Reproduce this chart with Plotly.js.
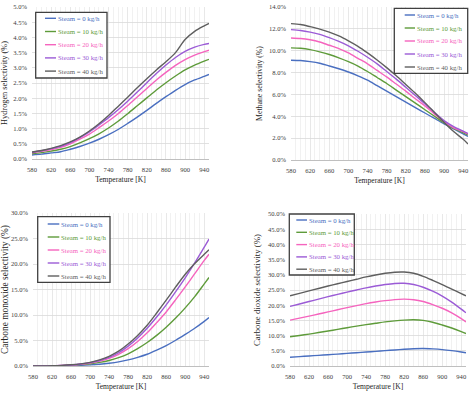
<!DOCTYPE html>
<html>
<head>
<meta charset="utf-8">
<script src="https://cdn.plot.ly/plotly-3.0.1.min.js"></script>
<style>
  html, body { margin: 0; padding: 0; background: #ffffff; }
  #chart { width: 474px; height: 399px; }
</style>
</head>
<body>
<div id="chart"></div>
<script>
// ---------------- DATA ----------------
var temperature = [580, 600, 620, 640, 660, 680, 700, 720, 740, 760, 780, 800, 820, 840, 860, 880, 900, 920, 940, 950];
var seriesNames = ["Steam = 0 kg/h", "Steam = 10 kg/h", "Steam = 20 kg/h", "Steam = 30 kg/h", "Steam = 40 kg/h"];
var xTickValues = [580, 620, 660, 700, 740, 780, 820, 860, 900, 940];

// Hydrogen selectivity (%)
var h2_0kg  = [0.13,0.16,0.20,0.24,0.32,0.41,0.52,0.65,0.80,0.97,1.17,1.38,1.60,1.83,2.05,2.26,2.45,2.60,2.72,2.78];
var h2_10kg = [0.17,0.21,0.26,0.32,0.41,0.53,0.67,0.83,1.02,1.24,1.49,1.75,2.01,2.27,2.51,2.73,2.93,3.09,3.22,3.28];
var h2_20kg = [0.20,0.25,0.31,0.38,0.50,0.65,0.82,1.03,1.25,1.49,1.76,2.04,2.32,2.60,2.85,3.08,3.27,3.42,3.53,3.58];
var h2_30kg = [0.22,0.27,0.34,0.42,0.54,0.70,0.89,1.12,1.36,1.62,1.90,2.20,2.51,2.81,3.09,3.34,3.54,3.68,3.77,3.80];
var h2_40kg = [0.23,0.28,0.35,0.44,0.56,0.72,0.92,1.16,1.43,1.73,2.03,2.34,2.64,2.93,3.20,3.50,3.93,4.20,4.38,4.46];

// Methane selectivity (%)
var ch4_0kg  = [9.13,9.10,9.00,8.85,8.60,8.35,8.05,7.70,7.30,6.80,6.30,5.80,5.30,4.80,4.30,3.80,3.30,2.85,2.40,2.15];
var ch4_10kg = [10.26,10.22,10.10,9.90,9.65,9.35,9.00,8.60,8.10,7.55,7.00,6.40,5.80,5.20,4.60,4.00,3.40,2.90,2.50,2.28];
var ch4_20kg = [11.17,11.12,11.00,10.80,10.50,10.20,9.80,9.30,8.80,8.20,7.60,6.95,6.30,5.60,4.95,4.20,3.50,2.95,2.60,2.37];
var ch4_30kg = [11.93,11.85,11.70,11.50,11.20,10.85,10.45,9.95,9.40,8.80,8.10,7.40,6.65,5.90,5.15,4.35,3.60,3.05,2.65,2.43];
var ch4_40kg = [12.48,12.40,12.20,11.98,11.70,11.35,10.90,10.40,9.80,9.15,8.45,7.70,6.90,6.10,5.25,4.35,3.45,2.60,1.90,1.46];

// Carbon monoxide selectivity (%)
var co_0kg  = [0.00,0.01,0.02,0.04,0.07,0.13,0.22,0.35,0.55,0.82,1.20,1.70,2.30,3.10,4.00,5.05,6.20,7.40,8.75,9.50];
var co_10kg = [0.00,0.02,0.04,0.08,0.15,0.26,0.43,0.70,1.08,1.65,2.40,3.40,4.60,6.00,7.60,9.40,11.40,13.60,16.10,17.35];
var co_20kg = [0.00,0.02,0.05,0.10,0.19,0.34,0.58,0.95,1.50,2.30,3.40,4.80,6.50,8.50,10.60,13.00,15.50,18.10,20.70,21.90];
var co_30kg = [0.00,0.02,0.05,0.10,0.21,0.38,0.66,1.08,1.70,2.60,3.90,5.50,7.40,9.60,12.00,14.60,17.30,20.20,23.30,24.90];
var co_40kg = [0.00,0.02,0.05,0.12,0.24,0.42,0.72,1.20,1.90,2.90,4.30,6.00,8.00,10.40,12.90,15.50,18.00,20.10,21.90,22.80];

// Carbon dioxide selectivity (%)
var co2_0kg  = [2.90,3.10,3.30,3.50,3.70,3.92,4.15,4.37,4.60,4.82,5.05,5.27,5.50,5.68,5.75,5.62,5.40,5.05,4.60,4.35];
var co2_10kg = [9.60,10.05,10.50,11.00,11.50,12.05,12.60,13.10,13.60,14.05,14.50,14.85,15.10,15.20,15.00,14.40,13.50,12.50,11.30,10.65];
var co2_20kg = [15.10,15.75,16.40,17.10,17.80,18.50,19.20,19.85,20.50,21.05,21.50,21.85,22.00,21.80,21.20,20.20,19.00,17.50,15.60,14.50];
var co2_30kg = [19.60,20.40,21.20,22.00,22.80,23.55,24.30,25.00,25.70,26.30,26.80,27.15,27.20,26.80,25.90,24.60,23.00,21.00,18.70,17.50];
var co2_40kg = [23.10,23.90,24.70,25.50,26.30,27.05,27.80,28.55,29.30,29.95,30.50,30.85,30.90,30.50,29.50,28.20,26.80,25.30,23.80,23.10];

// ---------------- STYLE / LAYOUT ----------------
var W = 474, H = 399;
var lineColors = ["#4a6fc0", "#5e9b3a", "#f564be", "#9b5bd6", "#5f5f5f"];
var FONT = "Liberation Serif, Times New Roman, serif";

var panels = [
  { series: [h2_0kg, h2_10kg, h2_20kg, h2_30kg, h2_40kg], ytitle: "Hydrogen selectivity (%)", ytitleSize: 8.3,
    yrange: [0, 5], ydtick: 0.5, box: [32, 7, 209, 159],
    legend: { box: [35.7, 12.3, 107, 78], y0: 18.3, dy: 13.2, lx: [45, 56], tx: 57 } },
  { series: [ch4_0kg, ch4_10kg, ch4_20kg, ch4_30kg, ch4_40kg], ytitle: "Methane selectivity (%)", ytitleSize: 7.8,
    yrange: [0, 14], ydtick: 2, box: [291, 7, 468, 160],
    legend: { box: [394.3, 8.3, 467.7, 73.3], y0: 15, dy: 13, lx: [404.7, 415], tx: 416 } },
  { series: [co_0kg, co_10kg, co_20kg, co_30kg, co_40kg], ytitle: "Carbone monoxide selectivity (%)", ytitleSize: 9.4,
    yrange: [0, 30], ydtick: 5, box: [33, 213, 209, 366],
    legend: { box: [37.7, 216.7, 110, 282.3], y0: 224, dy: 13, lx: [47.7, 59.3], tx: 60 } },
  { series: [co2_0kg, co2_10kg, co2_20kg, co2_30kg, co2_40kg], ytitle: "Carbone dioxide selectivity (%)", ytitleSize: 8.8,
    yrange: [0, 50], ydtick: 5, box: [290, 214, 466, 366],
    legend: { box: [289.3, 214, 354.3, 275], y0: 220, dy: 12.3, lx: [296.3, 307], tx: 307.7 } }
];

function px(x) { return x / W; }
function py(y) { return 1 - y / H; }

var traces = [];
var layout = {
  width: W, height: H,
  margin: { l: 0, r: 0, t: 0, b: 0 },
  paper_bgcolor: "#ffffff",
  plot_bgcolor: "#ffffff",
  showlegend: false,
  font: { family: FONT, size: 7, color: "#404040" },
  shapes: [],
  annotations: []
};

panels.forEach(function (p, k) {
  var suffix = k === 0 ? "" : String(k + 1);
  var xa = "xaxis" + suffix, ya = "yaxis" + suffix;
  p.series.forEach(function (vals, i) {
    traces.push({
      type: "scatter", mode: "lines",
      x: temperature, y: vals,
      xaxis: "x" + suffix, yaxis: "y" + suffix,
      name: seriesNames[i],
      line: { color: lineColors[i], width: 1.4, shape: "spline", smoothing: 0.8 },
      hoverinfo: "skip"
    });
  });
  layout[xa] = {
    domain: [px(p.box[0]), px(p.box[2])],
    anchor: "y" + suffix,
    range: [580, 950],
    tickmode: "array", tickvals: xTickValues,
    ticks: "", ticklabelstandoff: 4,
    tickfont: { family: FONT, size: 6.6, color: "#404040" },
    showgrid: true, gridcolor: "#e6e6e6", gridwidth: 0.8,
    minor: { dtick: 10, tick0: 580, showgrid: true, gridcolor: "#eeeeee", gridwidth: 0.8 },
    showline: true, linecolor: "#bfbfbf", linewidth: 1,
    zeroline: false, fixedrange: true,
    title: { text: "Temperature [K]", font: { family: FONT, size: 7.6, color: "#262626" }, standoff: 4 }
  };
  layout[ya] = {
    domain: [py(p.box[3]), py(p.box[1])],
    anchor: "x" + suffix,
    range: p.yrange, dtick: p.ydtick, tick0: 0,
    tickformat: ".1f", ticksuffix: "%",
    ticks: "", ticklabelstandoff: 4,
    tickfont: { family: FONT, size: 6.6, color: "#404040" },
    showgrid: true, gridcolor: "#d9d9d9", gridwidth: 0.8,
    showline: false, zeroline: false, fixedrange: true,
    title: { text: p.ytitle, font: { family: FONT, size: p.ytitleSize, color: "#262626" }, standoff: 5 }
  };

  // legend box (library shapes/annotations in paper space)
  var L = p.legend;
  layout.shapes.push({
    type: "rect", xref: "paper", yref: "paper",
    x0: px(L.box[0]), x1: px(L.box[2]), y0: py(L.box[3]), y1: py(L.box[1]),
    line: { color: "#404040", width: 1.3 }, fillcolor: "#ffffff", layer: "above"
  });
  seriesNames.forEach(function (name, i) {
    var yy = L.y0 + i * L.dy;
    layout.shapes.push({
      type: "line", xref: "paper", yref: "paper",
      x0: px(L.lx[0]), x1: px(L.lx[1]), y0: py(yy), y1: py(yy),
      line: { color: lineColors[i], width: 1.4 }, layer: "above"
    });
    layout.annotations.push({
      xref: "paper", yref: "paper", x: px(L.tx), y: py(yy),
      xanchor: "left", yanchor: "middle", showarrow: false, borderpad: 0,
      text: name, font: { family: FONT, size: 6.8, color: lineColors[i] }
    });
  });
});

Plotly.newPlot("chart", traces, layout, { staticPlot: true, displayModeBar: false });
</script>
</body>
</html>
